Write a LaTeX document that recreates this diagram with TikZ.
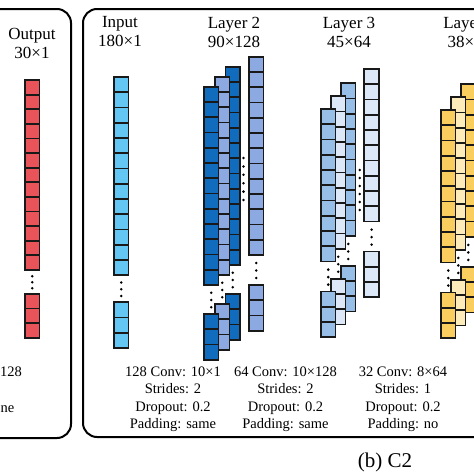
\documentclass[tikz,border=0pt]{standalone}
\usepackage{fontspec}
\setmainfont{Liberation Serif}
\usepackage{xcolor}
\definecolor{outred}{RGB}{232,84,90}
\definecolor{inblue}{RGB}{100,198,242}
\definecolor{darkblue}{RGB}{18,108,190}
\definecolor{lilac}{RGB}{140,170,225}
\definecolor{midblue}{RGB}{150,190,230}
\definecolor{paleblue}{RGB}{220,232,248}
\definecolor{gold}{RGB}{250,205,95}
\definecolor{paleyellow}{RGB}{253,236,185}

% one feature map: x, top, cells above the gap, fill, cell height, gap
\newcommand{\fmap}[6]{%
  \pgfmathsetmacro{\gapy}{#2+#3*#5}
  \foreach \k in {1,...,#3}
    \draw[cell,fill=#4] (#1,{#2+(\k-1)*#5}) rectangle ++(14.5,#5);
  \foreach \pos in {0.27,0.52,0.77}
    \fill ({#1+7.25},{\gapy+\pos*#6}) circle (1.4pt);
  \foreach \k in {0,1,2}
    \draw[cell,fill=#4] (#1,{\gapy+#6+\k*#5}) rectangle ++(14.5,#5);
}

\begin{document}
\begin{tikzpicture}[x=1pt,y=-1pt,
  cell/.style={draw=black!90,line width=1.8pt},
  panel/.style={draw=black,line width=2pt,rounded corners=14pt},
  lab/.style={align=center,font=\fontsize{17}{19}\selectfont},
  info/.style={align=center,font=\fontsize{14.5}{17.5}\selectfont}]
\useasboundingbox (0,0) rectangle (474,474);
\draw[panel] (-30,9) rectangle (71,438);
\draw[panel] (83,9) rectangle (520,437);

% left panel
\node[lab] (outlab) at (32,43) {Output\\30×1};
\fmap{25}{80}{13}{outred}{14.6}{24}
\node[info,anchor=east,inner sep=0pt] (lconv) at (22,372) {128};
\node[info,anchor=east,inner sep=0pt] (lpad) at (14.5,409) {ne};

% input
\node[lab] (inlab) at (120,32) {Input\\180×1};
\fmap{114}{77}{13}{inblue}{15.25}{27}

% layer 2
\node[lab] (l2lab) at (234,32) {Layer 2\\90×128};
\fmap{225.5}{66.7}{13}{darkblue}{15.25}{29}
\fmap{215}{76.7}{13}{lilac}{15.25}{29}
\fmap{204}{86.7}{13}{darkblue}{15.25}{29}
\foreach \k in {0,...,5} \fill (243.5,{158+\k*8.4}) circle (1.4pt);
\fmap{249}{56.7}{13}{lilac}{15.25}{30}

% layer 3
\node[lab] (l3lab) at (349,32) {Layer 3\\45×64};
\fmap{341}{83.3}{10}{midblue}{15.25}{30}
\fmap{331}{96.2}{10}{paleblue}{15.25}{30}
\fmap{321}{109}{10}{midblue}{15.25}{30}
\foreach \k in {0,...,5} \fill (359.7,{170+\k*8}) circle (1.4pt);
\fmap{364.3}{69}{10}{paleblue}{15.25}{30}

% layer 4
\node[lab] (l4lab) at (469.5,32) {Layer 4\\38×32};
\fmap{461}{84.3}{10}{gold}{15.25}{30}
\fmap{451}{97.3}{10}{paleyellow}{15.25}{30}
\fmap{441}{110}{10}{gold}{15.25}{30}

% settings
\node[info] (conv1) at (173,399) {128 Conv: 10×1\\Strides: 2\\Dropout: 0.2\\Padding: same};
\node[info] (conv2) at (285.5,399) {64 Conv: 10×128\\Strides: 2\\Dropout: 0.2\\Padding: same};
\node[info] (conv3) at (403,399) {32 Conv: 8×64\\Strides: 1\\Dropout: 0.2\\Padding: no};
\node[font=\fontsize{21}{24}\selectfont] (capb) at (385,462) {(b) C2};
\end{tikzpicture}
\end{document}
